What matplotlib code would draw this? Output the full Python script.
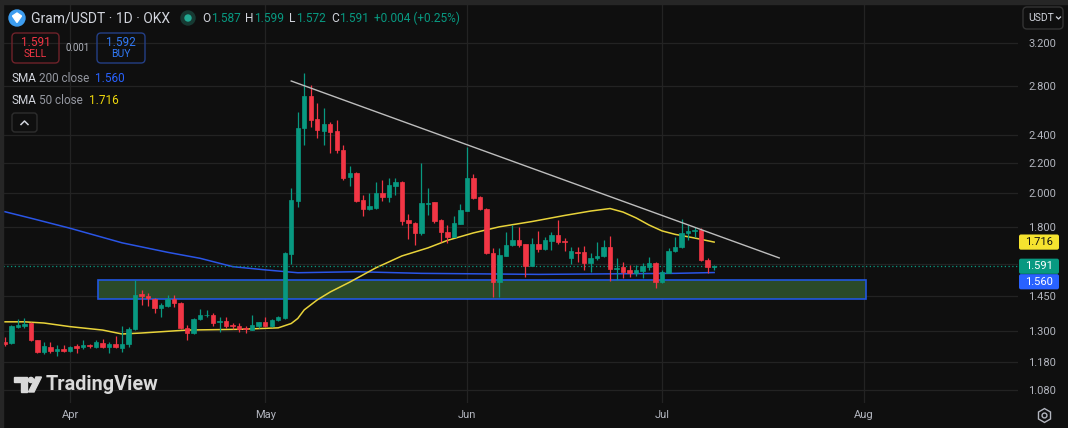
import matplotlib
matplotlib.use('Agg')
import matplotlib.pyplot as plt
import matplotlib.dates as mdates
from matplotlib.patches import Rectangle, FancyBboxPatch, Circle, Polygon
from matplotlib.ticker import NullLocator
import numpy as np
import pandas as pd

plt.rcParams['font.family'] = ['Roboto', 'DejaVu Sans']

# daily candles, Mar 22 -> Jul 9
start_date = '2024-03-22'
opens = [1.255, 1.251, 1.316, 1.320, 1.332, 1.263, 1.217, 1.236, 1.220, 1.228,
         1.220, 1.240, 1.236, 1.244, 1.236, 1.251, 1.236, 1.248, 1.232, 1.248,
         1.307, 1.459, 1.450, 1.436, 1.396, 1.405, 1.436, 1.418, 1.312, 1.291,
         1.349, 1.364, 1.366, 1.336, 1.341, 1.324, 1.320, 1.312, 1.303, 1.320,
         1.336, 1.320, 1.345, 1.353, 1.653, 1.952, 2.453, 2.711, 2.523, 2.430,
         2.484, 2.430, 2.289, 2.104, 2.130, 1.958, 1.903, 1.909, 2.001, 1.977,
         2.046, 2.071, 1.839, 1.821, 1.766, 1.936, 1.945, 1.839, 1.771, 1.744,
         1.816, 1.891, 2.097, 1.977, 1.903, 1.658, 1.514, 1.643, 1.700, 1.727,
         1.706, 1.592, 1.706, 1.679, 1.722, 1.755, 1.722, 1.632, 1.663, 1.663,
         1.607, 1.632, 1.643, 1.690, 1.578, 1.587, 1.573, 1.558, 1.568, 1.587,
         1.607, 1.514, 1.558, 1.669, 1.690, 1.766, 1.777, 1.782, 1.622, 1.587]
highs = [1.275, 1.324, 1.349, 1.353, 1.336, 1.263, 1.255, 1.255, 1.244, 1.244,
         1.240, 1.248, 1.263, 1.248, 1.263, 1.267, 1.255, 1.279, 1.320, 1.316,
         1.524, 1.477, 1.463, 1.441, 1.418, 1.454, 1.454, 1.423, 1.324, 1.353,
         1.392, 1.388, 1.375, 1.358, 1.358, 1.332, 1.332, 1.320, 1.366, 1.336,
         1.358, 1.349, 1.362, 1.663, 2.033, 2.579, 2.913, 2.806, 2.652, 2.611,
         2.499, 2.515, 2.325, 2.177, 2.137, 1.989, 2.001, 2.071, 2.084, 2.097,
         2.097, 2.078, 1.874, 1.827, 2.198, 2.033, 1.945, 1.845, 1.810, 1.862,
         1.933, 2.310, 2.124, 1.983, 1.909, 1.685, 1.685, 1.771, 1.810, 1.799,
         1.706, 1.738, 1.777, 1.744, 1.771, 1.839, 1.738, 1.690, 1.690, 1.695,
         1.658, 1.716, 1.727, 1.749, 1.632, 1.612, 1.597, 1.597, 1.607, 1.638,
         1.612, 1.573, 1.685, 1.744, 1.845, 1.810, 1.799, 1.793, 1.632, 1.599]
lows = [1.240, 1.248, 1.312, 1.312, 1.259, 1.213, 1.209, 1.213, 1.201, 1.217,
        1.217, 1.213, 1.228, 1.232, 1.232, 1.232, 1.213, 1.232, 1.217, 1.236,
        1.303, 1.409, 1.405, 1.375, 1.358, 1.400, 1.400, 1.307, 1.263, 1.287,
        1.345, 1.358, 1.320, 1.295, 1.312, 1.307, 1.295, 1.291, 1.303, 1.312,
        1.316, 1.316, 1.341, 1.349, 1.602, 1.915, 2.325, 2.460, 2.377, 2.325,
        2.268, 2.268, 2.084, 2.046, 1.945, 1.862, 1.897, 1.903, 1.952, 1.945,
        1.989, 1.810, 1.733, 1.700, 1.755, 1.868, 1.821, 1.716, 1.711, 1.744,
        1.816, 1.891, 1.964, 1.897, 1.653, 1.445, 1.445, 1.643, 1.695, 1.690,
        1.538, 1.592, 1.663, 1.674, 1.674, 1.706, 1.669, 1.602, 1.612, 1.573,
        1.563, 1.622, 1.638, 1.519, 1.524, 1.534, 1.538, 1.543, 1.534, 1.573,
        1.486, 1.510, 1.558, 1.663, 1.685, 1.727, 1.744, 1.617, 1.558, 1.572]
closes = [1.248, 1.320, 1.324, 1.328, 1.263, 1.217, 1.240, 1.220, 1.228, 1.220,
          1.236, 1.232, 1.244, 1.240, 1.255, 1.236, 1.248, 1.236, 1.248, 1.307,
          1.454, 1.450, 1.441, 1.396, 1.409, 1.436, 1.418, 1.312, 1.291, 1.349,
          1.366, 1.366, 1.332, 1.341, 1.320, 1.320, 1.307, 1.307, 1.324, 1.336,
          1.320, 1.345, 1.358, 1.658, 1.958, 2.453, 2.711, 2.515, 2.437, 2.484,
          2.422, 2.289, 2.097, 2.130, 1.952, 1.903, 1.921, 2.001, 1.977, 2.052,
          2.071, 1.833, 1.821, 1.766, 1.939, 1.939, 1.833, 1.771, 1.744, 1.821,
          1.897, 2.097, 1.970, 1.903, 1.658, 1.514, 1.648, 1.700, 1.727, 1.700,
          1.592, 1.706, 1.679, 1.727, 1.755, 1.716, 1.716, 1.669, 1.658, 1.607,
          1.632, 1.643, 1.690, 1.578, 1.582, 1.563, 1.558, 1.573, 1.592, 1.607,
          1.514, 1.563, 1.669, 1.690, 1.766, 1.777, 1.782, 1.622, 1.587, 1.591]

# moving averages (day index from start_date)
sma50_idx = [0, 3, 6, 10, 15, 18, 21, 28, 36, 42, 44, 45, 46, 48, 50, 53, 57,
             61, 65, 68, 72, 76, 81, 86, 90, 93, 95, 97, 99, 101, 103, 106, 109]
sma50_val = [1.337, 1.337, 1.332, 1.317, 1.303, 1.287, 1.291, 1.303, 1.306,
             1.312, 1.330, 1.351, 1.388, 1.432, 1.468, 1.514, 1.583, 1.643,
             1.685, 1.725, 1.766, 1.800, 1.830, 1.865, 1.891, 1.906, 1.885,
             1.851, 1.810, 1.777, 1.758, 1.738, 1.716]
sma200_idx = [0, 4, 10, 18, 25, 30, 35, 40, 45, 54, 64, 82, 103, 109]
sma200_val = [1.887, 1.849, 1.792, 1.712, 1.662, 1.631, 1.589, 1.573, 1.559,
              1.564, 1.556, 1.551, 1.556, 1.560]

# drawings
zone_dates = ['2024-04-05', '2024-08-01']
zone_prices = [1.436, 1.525]
trend_dates = ['2024-05-05', '2024-07-19']
trend_prices = [2.841, 1.633]

price_ticks = [1.08, 1.18, 1.30, 1.45, 1.60, 1.80, 2.00, 2.20, 2.40, 2.80, 3.20]
hidden_ticks = [1.60]  # label covered by the price badges
month_starts = ['2024-04-01', '2024-05-01', '2024-06-01', '2024-07-01', '2024-08-01']
month_labels = ['Apr', 'May', 'Jun', 'Jul', 'Aug']

symbol = 'Gram/USDT · 1D · OKX'
change, change_pct = 0.004, 0.25
sell_price, buy_price, spread = 1.591, 1.592, 0.001
sma200_last, sma50_last = 1.560, 1.716

BG = '#0f0f0f'
GRID = '#232323'
GREEN = '#089981'
RED = '#f23645'
YELLOW = '#e8d33a'
TXT = '#d1d4dc'
GREY = '#b2b5be'

W, H = 1068, 428
fig = plt.figure(figsize=(W / 100, H / 100), dpi=100, facecolor=BG)
ax = fig.add_axes([3 / W, 25 / H, 1015 / W, 398 / H], facecolor=BG)

dates = pd.date_range(start_date, periods=len(closes))
x = mdates.date2num(dates)
o, h, l, c = map(np.array, (opens, highs, lows, closes))
up = c >= o
cols = np.where(up, GREEN, RED)

apr1 = mdates.date2num(pd.Timestamp(month_starts[0]))
aug1 = mdates.date2num(pd.Timestamp(month_starts[-1]))
ax.set_xlim(apr1 - 10.3, aug1 + 23.7)
ax.set_yscale('log')
ax.set_ylim(1.037, 3.604)

# zone
zx = mdates.date2num(pd.to_datetime(zone_dates))
ax.add_patch(Rectangle((zx[0] + 0.3, zone_prices[0]), zx[1] - zx[0], zone_prices[1] - zone_prices[0],
                       facecolor='#2a4a2a', edgecolor='#2157e0', lw=1.2, zorder=1))

# moving averages
ax.plot(x[0] + np.array(sma200_idx), sma200_val, color='#2a55e6', lw=1.1, zorder=2)
ax.plot(x[0] + np.array(sma50_idx), sma50_val, color=YELLOW, lw=1.1, zorder=2)

# candles
ax.vlines(x, l, h, colors=cols, lw=0.9, zorder=3)
ax.bar(x, np.abs(c - o), width=0.68, bottom=np.minimum(o, c), color=cols,
       edgecolor=cols, lw=0.5, zorder=4)

# trend line
tx = mdates.date2num(pd.to_datetime(trend_dates))
ax.plot(tx, trend_prices, color='#bdbdbd', lw=1.0, zorder=5)

# last price dotted line
ax.axhline(c[-1], color=GREEN, ls=(0, (1, 2)), lw=0.9, zorder=2)

# axes styling
for s in ax.spines.values():
    s.set_visible(False)
ax.yaxis.tick_right()
ax.set_yticks(price_ticks)
ax.set_yticklabels(['' if v in hidden_ticks else f'{v:.3f}' for v in price_ticks])
ax.yaxis.set_minor_locator(NullLocator())
ax.set_xticks(mdates.date2num(pd.to_datetime(month_starts)))
ax.set_xticklabels(month_labels)
ax.tick_params(axis='y', length=0, pad=7.5, labelsize=8, labelcolor=GREY)
ax.tick_params(axis='x', length=0, pad=5, labelsize=8, labelcolor=GREY)
ax.grid(True, color=GRID, lw=0.9, zorder=0)
ax.set_axisbelow(True)

# overlay in pixel coordinates for the TradingView furniture
ov = fig.add_axes([0, 0, 1, 1], facecolor='none')
ov.set_xlim(0, W)
ov.set_ylim(H, 0)
ov.axis('off')
ov.add_patch(Rectangle((0, 0), W, 4, color='#262626', zorder=0))
ov.add_patch(Rectangle((0, 0), 3, H, color='#262626', zorder=0))

renderer = fig.canvas.get_renderer()


def row(x0, y0, pieces, size=9.0):
    for s, col, gap in pieces:
        t = ov.text(x0, y0, s, color=col, fontsize=size, va='center', ha='left')
        x0 += t.get_window_extent(renderer=renderer).width + gap
    return x0


# header
ov.add_patch(Circle((17, 18), 8, color='#3d9df0'))
ov.add_patch(Polygon([[12.5, 16], [17, 13], [21.5, 16], [17, 22.5]], closed=True, color='white'))
ov.text(31, 18, symbol, color=TXT, fontsize=10, va='center', ha='left')
ov.add_patch(Circle((188, 18), 7, color='#173a33'))
ov.add_patch(Circle((188, 18), 3, color='#22ab94'))
last = [(opens[-1], 'O'), (highs[-1], 'H'), (lows[-1], 'L'), (closes[-1], 'C')]
pieces = []
for v, k in last:
    pieces += [(k, TXT, 0.5), (f'{v:.3f}', GREEN, 5)]
pieces += [(f'+{change:.3f} (+{change_pct:.2f}%)', GREEN, 0)]
row(202, 18, pieces, size=8.6)

# sell / buy
ov.add_patch(FancyBboxPatch((12, 33), 47, 30, boxstyle='round,pad=0,rounding_size=4',
                            fc='none', ec='#6e222a', lw=1))
ov.text(35.5, 42.5, f'{sell_price:.3f}', color=RED, fontsize=8.5, ha='center', va='center')
ov.text(35.5, 54, 'SELL', color=RED, fontsize=7.5, ha='center', va='center')
ov.text(78, 48, f'{spread:.3f}', color=GREY, fontsize=7, ha='center', va='center')
ov.add_patch(FancyBboxPatch((97, 33), 48, 30, boxstyle='round,pad=0,rounding_size=4',
                            fc='none', ec='#243f86', lw=1))
ov.text(121, 42.5, f'{buy_price:.3f}', color='#3179f5', fontsize=8.5, ha='center', va='center')
ov.text(121, 54, 'BUY', color='#3179f5', fontsize=7.5, ha='center', va='center')

# indicator legend
row(11, 78, [('SMA', TXT, 3), ('200 close', '#9598a1', 6), (f'{sma200_last:.3f}', '#2962ff', 0)], size=8.5)
row(11, 100, [('SMA', TXT, 3), ('50 close', '#9598a1', 6), (f'{sma50_last:.3f}', '#f0d90c', 0)], size=8.5)
ov.add_patch(FancyBboxPatch((12, 113), 25, 19, boxstyle='round,pad=0,rounding_size=3',
                            fc='none', ec='#2e2e2e', lw=1))
ov.plot([21, 24.5, 28], [124.5, 121, 124.5], color=TXT, lw=1.1)

# TradingView logo
ov.add_patch(Polygon([[13.5, 377], [27, 377], [27, 392], [20.5, 392], [20.5, 382], [13.5, 382]],
                     closed=True, color='#d9d9d9'))
ov.add_patch(Circle((31, 380), 2.6, color='#d9d9d9'))
ov.add_patch(Polygon([[28.5, 392], [34, 392], [41.5, 377], [36, 377]], closed=True, color='#d9d9d9'))
ov.text(46, 385, 'TradingView', color='#d9d9d9', fontsize=14.3, fontweight='bold',
        ha='left', va='center')

# currency selector
ov.add_patch(FancyBboxPatch((1023, 7), 40, 22, boxstyle='round,pad=0,rounding_size=4',
                            fc='none', ec='#333333', lw=1))
ov.text(1028, 18, 'USDT', color=TXT, fontsize=7.5, ha='left', va='center')
ov.plot([1056.5, 1058.5, 1060.5], [17, 19, 17], color=TXT, lw=0.9)


# price badges on the scale
def ypix(p):
    return H - ax.transData.transform((ax.get_xlim()[0], p))[1]


badges = [(sma50_last, ypix(sma50_last), '#f5e32f', '#111111'),
          (c[-1], ypix(c[-1]), GREEN, 'white')]
badges.append((sma200_last, badges[1][1] + 15.5, '#2962ff', 'white'))
for v, yc, fc, tc in badges:
    ov.add_patch(FancyBboxPatch((1019, yc - 7.6), 40, 15.2, boxstyle='round,pad=0,rounding_size=2',
                                fc=fc, ec='none', zorder=5))
    ov.text(1039, yc, f'{v:.3f}', color=tc, fontsize=8, ha='center', va='center', zorder=6)

# settings icon
ov.plot([1044], [415], marker='h', ms=10, mfc='none', mec=GREY, mew=1)
ov.plot([1044], [415], marker='o', ms=3.5, mfc='none', mec=GREY, mew=1)

fig.savefig('out.png', dpi=100, facecolor=BG)
